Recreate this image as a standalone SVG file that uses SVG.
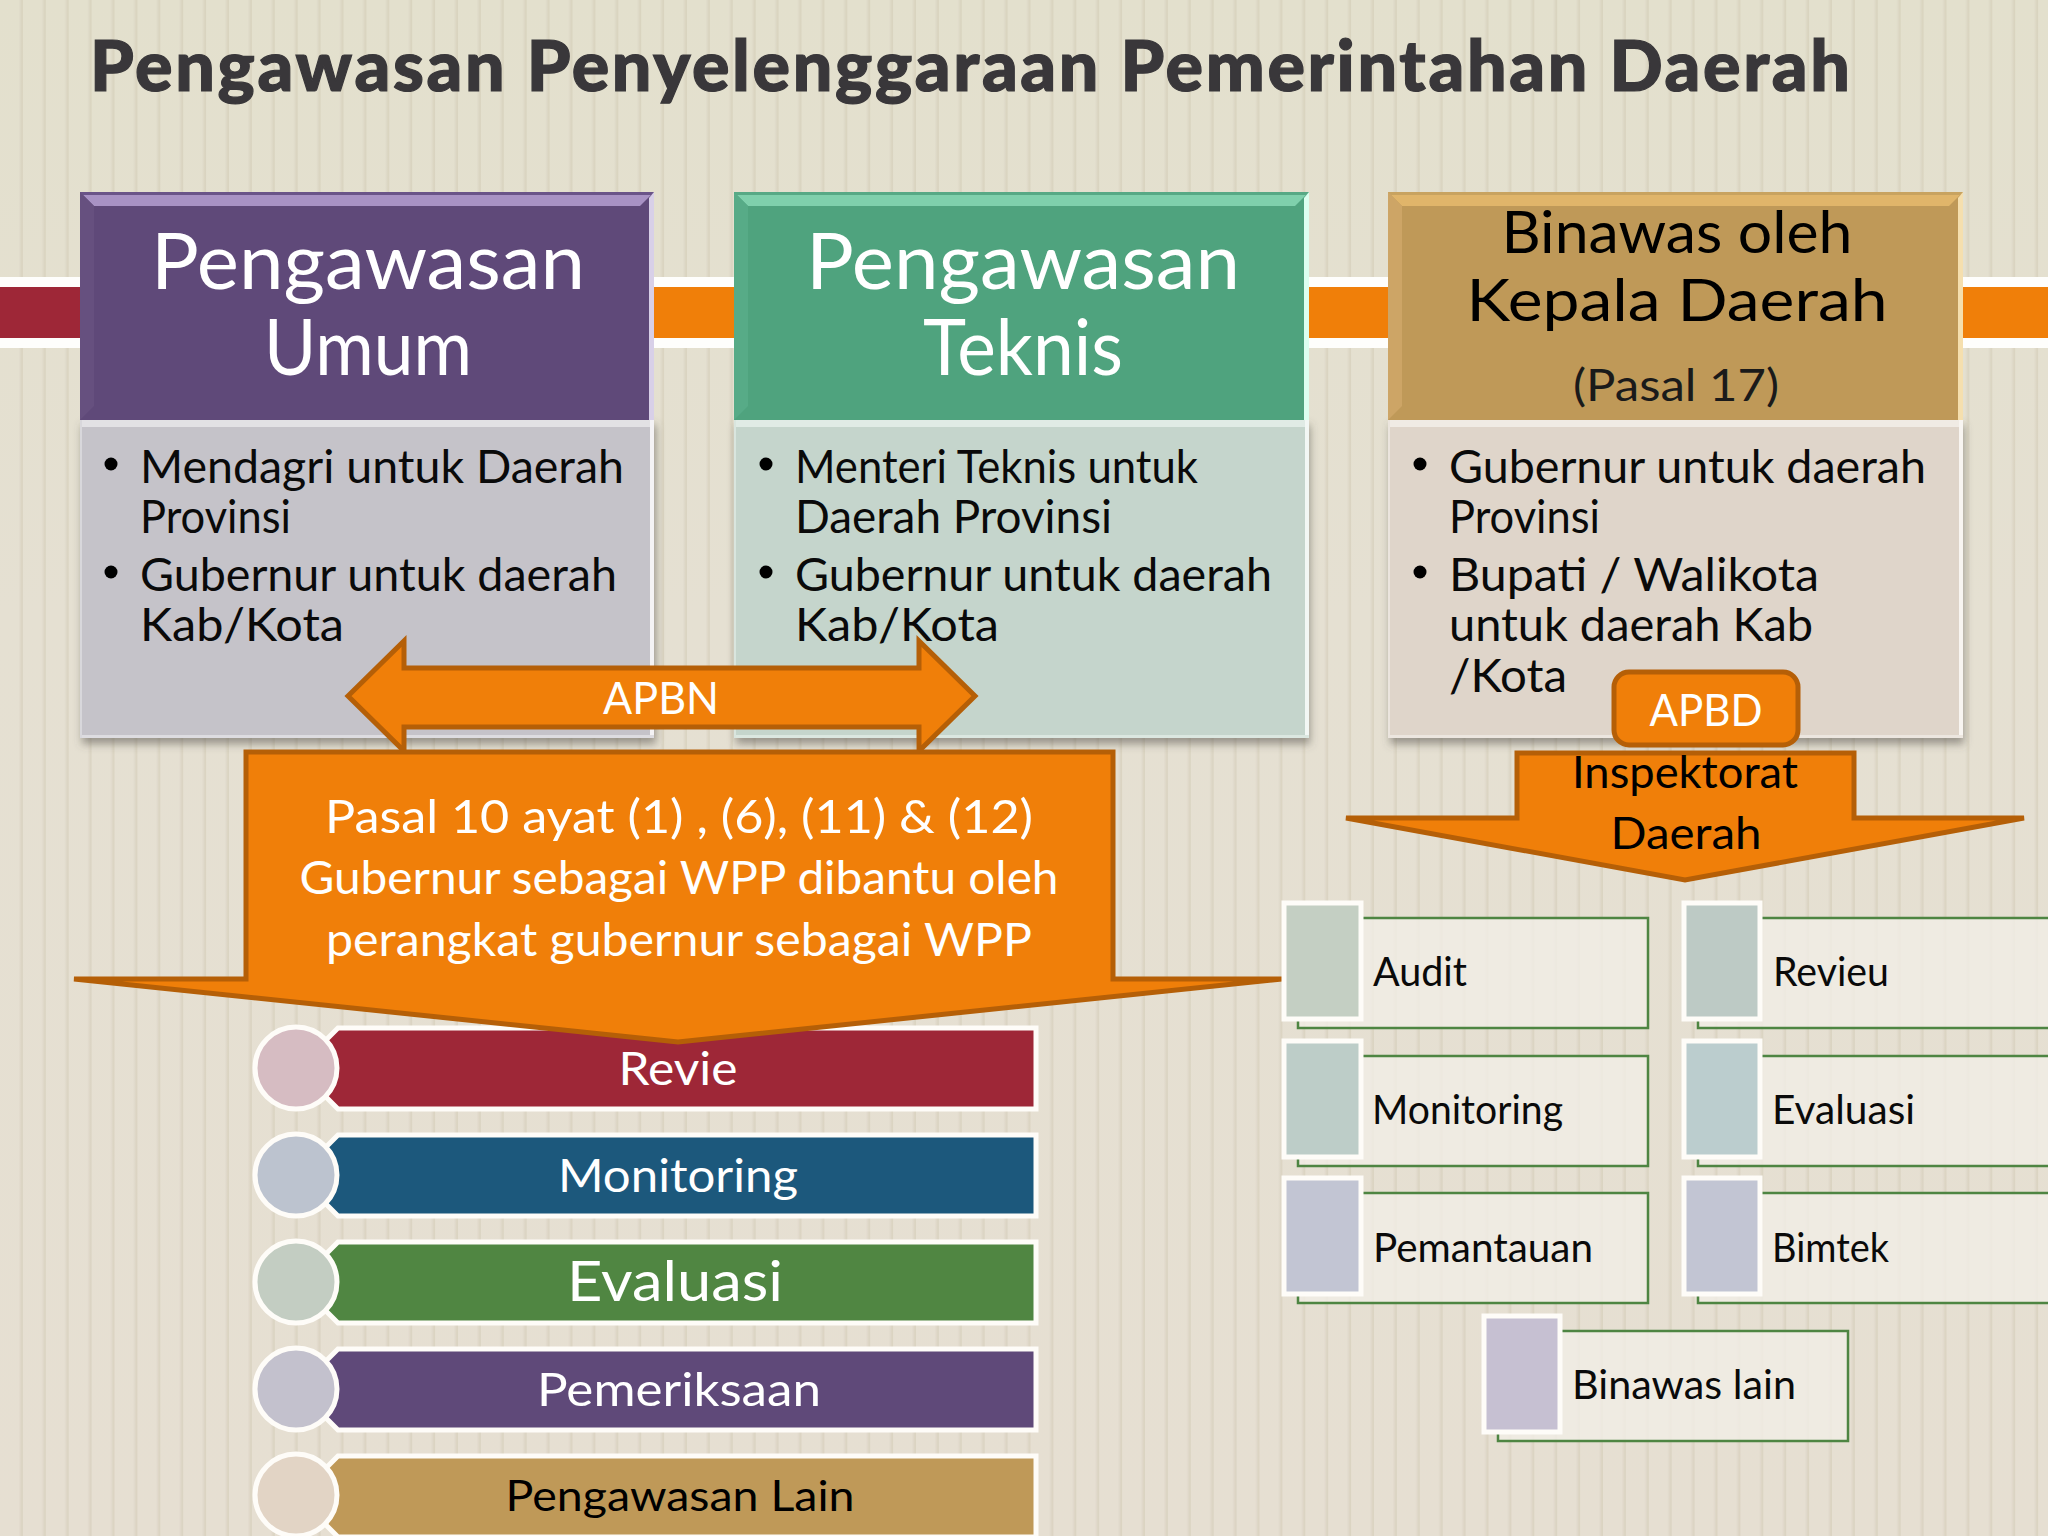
<svg xmlns="http://www.w3.org/2000/svg" width="2048" height="1536" viewBox="0 0 2048 1536">
<defs>
<linearGradient id="bgGrad" x1="0" y1="0" x2="0" y2="1"><stop offset="0" stop-color="#e3e0cd"/><stop offset="0.4" stop-color="#e5e0d2"/><stop offset="1" stop-color="#e6dfd2"/></linearGradient>
<pattern id="stripes" width="22.9" height="40" patternUnits="userSpaceOnUse"><rect x="19.5" width="1.5" height="40" fill="#c8bfa8" fill-opacity="0.2"/><rect x="21" width="4" height="40" fill="#c8bfa8" fill-opacity="0.36"/><rect x="25" width="1.5" height="40" fill="#c8bfa8" fill-opacity="0.2"/></pattern>
<filter id="shadow" x="-5%" y="-5%" width="110%" height="110%"><feGaussianBlur stdDeviation="4"/></filter>
</defs>
<style>
text{font-family:"Lato","Open Sans","Liberation Sans",sans-serif}
.c{text-anchor:middle}
.w{fill:#ffffff}
.k{fill:#000000}
.h{font-size:78px}
.b{font-size:46px;fill:#0a0a0a}
.a{fill:#f07f09;stroke:#b55f07;stroke-width:5;stroke-linejoin:miter}
.bar{stroke:#fefcf8;stroke-width:5}
.circ{stroke:#fefcf8;stroke-width:5}
.panel{fill:#f1ede6;fill-opacity:.8;stroke:#4e8542;stroke-width:2.5}
.thumb{stroke:#fefcf8;stroke-width:5}
.l{font-size:40px;fill:#0a0a0a}
.shadow{fill:#5a5650;fill-opacity:.55}
</style>
<rect width="2048" height="1536" fill="url(#bgGrad)"/>
<rect width="2048" height="1536" fill="url(#stripes)"/>
<text id="title" x="90" y="91" font-size="70" font-weight="900" fill="#39373a" stroke="#39373a" stroke-width="1.2" textLength="1760" lengthAdjust="spacing">Pengawasan Penyelenggaraan Pemerintahan Daerah</text>
<g id="connectors">
<rect x="0" y="277" width="2048" height="71" fill="#fefefc"/>
<rect x="0" y="287" width="80" height="51" fill="#9e2737"/>
<rect x="654" y="287" width="1394" height="51" fill="#f07f09"/>
</g>
<g id="box-umum">
<rect class="shadow" x="82" y="425" width="574" height="319" filter="url(#shadow)"/>
<rect x="80" y="420" width="574" height="318" fill="#c5c3c9"/>
<rect x="80" y="420" width="574" height="7" fill="#e2e1e4"/>
<rect x="650" y="420" width="4" height="318" fill="#f4f3f5"/>
<rect x="80" y="735" width="574" height="3" fill="#dddce0"/>
<rect x="80" y="420" width="2" height="318" fill="#d8d7db"/>
<rect x="80" y="192" width="574" height="228" fill="#5f4979"/>
<path d="M80 192H654L640 206H94Z" fill="#a892c4"/>
<rect x="80" y="192" width="574" height="3" fill="#6a5488"/>
<path d="M80 192L94 206V406L80 420Z" fill="#66507f"/>
<path d="M654 192L649 198V420H654Z" fill="#d8d0e8"/>
<text class="h c w"><tspan x="368" y="289" textLength="434" lengthAdjust="spacingAndGlyphs">Pengawasan</tspan><tspan x="368" y="375" textLength="208" lengthAdjust="spacingAndGlyphs">Umum</tspan></text>
<circle cx="111" cy="464" r="6.5"/><circle cx="111" cy="572" r="6.5"/>
<text class="b" x="140" y="483" textLength="484" lengthAdjust="spacingAndGlyphs">Mendagri untuk Daerah</text>
<text class="b" x="140" y="533" textLength="151" lengthAdjust="spacingAndGlyphs">Provinsi</text>
<text class="b" x="140" y="591" textLength="477" lengthAdjust="spacingAndGlyphs">Gubernur untuk daerah</text>
<text class="b" x="140" y="641" textLength="204" lengthAdjust="spacingAndGlyphs">Kab/Kota</text>
</g>
<g id="box-teknis">
<rect class="shadow" x="736" y="425" width="574" height="319" filter="url(#shadow)"/>
<rect x="734" y="420" width="575" height="318" fill="#c5d5cc"/>
<rect x="734" y="420" width="575" height="7" fill="#e0ebe5"/>
<rect x="1305" y="420" width="4" height="318" fill="#f2f7f4"/>
<rect x="734" y="735" width="575" height="3" fill="#dbe7e0"/>
<rect x="734" y="420" width="2" height="318" fill="#d9e5de"/>
<rect x="734" y="192" width="575" height="228" fill="#4fa37e"/>
<path d="M734 192H1309L1295 206H748Z" fill="#7fd0ac"/>
<rect x="734" y="192" width="575" height="3" fill="#57a985"/>
<path d="M734 192L748 206V406L734 420Z" fill="#57ab87"/>
<path d="M1309 192L1304 198V420H1309Z" fill="#dcfff0"/>
<text class="h c w"><tspan x="1023" y="289" textLength="434" lengthAdjust="spacingAndGlyphs">Pengawasan</tspan><tspan x="1023" y="375" textLength="200" lengthAdjust="spacingAndGlyphs">Teknis</tspan></text>
<circle cx="766" cy="464" r="6.5"/><circle cx="766" cy="572" r="6.5"/>
<text class="b" x="795" y="483" textLength="403" lengthAdjust="spacingAndGlyphs">Menteri Teknis untuk</text>
<text class="b" x="795" y="533" textLength="317" lengthAdjust="spacingAndGlyphs">Daerah Provinsi</text>
<text class="b" x="795" y="591" textLength="477" lengthAdjust="spacingAndGlyphs">Gubernur untuk daerah</text>
<text class="b" x="795" y="641" textLength="204" lengthAdjust="spacingAndGlyphs">Kab/Kota</text>
</g>
<g id="box-binawas">
<rect class="shadow" x="1390" y="425" width="574" height="319" filter="url(#shadow)"/>
<rect x="1388" y="420" width="575" height="318" fill="#dfd5ca"/>
<rect x="1388" y="420" width="575" height="7" fill="#f0ebe4"/>
<rect x="1959" y="420" width="4" height="318" fill="#f8f5f1"/>
<rect x="1388" y="735" width="575" height="3" fill="#ece6df"/>
<rect x="1388" y="420" width="2" height="318" fill="#ebe5de"/>
<rect x="1388" y="192" width="575" height="228" fill="#bf9958"/>
<path d="M1388 192H1963L1949 206H1402Z" fill="#e0b56a"/>
<rect x="1388" y="192" width="575" height="3" fill="#c8a360"/>
<path d="M1388 192L1402 206V406L1388 420Z" fill="#cda566"/>
<path d="M1963 192L1958 198V420H1963Z" fill="#f5dfae"/>
<text class="c k" font-size="58"><tspan x="1677" y="253" textLength="351" lengthAdjust="spacingAndGlyphs">Binawas oleh</tspan><tspan x="1677" y="321" textLength="421" lengthAdjust="spacingAndGlyphs">Kepala Daerah</tspan></text>
<text class="c" x="1676" y="401" font-size="44" fill="#1a1a1a" textLength="206" lengthAdjust="spacingAndGlyphs">(Pasal 17)</text>
<circle cx="1420" cy="464" r="6.5"/><circle cx="1420" cy="572" r="6.5"/>
<text class="b" x="1449" y="483" textLength="477" lengthAdjust="spacingAndGlyphs">Gubernur untuk daerah</text>
<text class="b" x="1449" y="533" textLength="151" lengthAdjust="spacingAndGlyphs">Provinsi</text>
<text class="b" x="1449" y="591" textLength="370" lengthAdjust="spacingAndGlyphs">Bupati / Walikota</text>
<text class="b" x="1449" y="641" textLength="364" lengthAdjust="spacingAndGlyphs">untuk daerah Kab</text>
<text class="b" x="1449" y="692" textLength="118" lengthAdjust="spacingAndGlyphs">/Kota</text>
</g>
<g id="arrow-apbn">
<path class="a" d="M348 696L404 641V668H919V641L975 696L919 751V727H404V751Z"/>
<text class="c w" x="661" y="714" font-size="44" textLength="116" lengthAdjust="spacingAndGlyphs">APBN</text>
</g>
<g id="apbd">
<rect class="a" x="1614" y="672" width="184" height="73" rx="15"/>
<text class="c w" x="1706" y="726" font-size="44" textLength="113" lengthAdjust="spacingAndGlyphs">APBD</text>
</g>
<g id="bar-revie">
<path class="bar" fill="#9e2737" d="M326 1040L338 1028H1036V1109H338L326 1097Z"/>
<circle class="circ" cx="296" cy="1068" r="41" fill="#d6bcc2"/>
<text class="c w" x="678" y="1085" font-size="46" textLength="119" lengthAdjust="spacingAndGlyphs">Revie</text>
</g>
<g id="bar-monitoring">
<path class="bar" fill="#1c587c" d="M326 1147L338 1135H1036V1216H338L326 1204Z"/>
<circle class="circ" cx="296" cy="1175" r="41" fill="#bcc3cf"/>
<text class="c w" x="678" y="1192" font-size="46" textLength="240" lengthAdjust="spacingAndGlyphs">Monitoring</text>
</g>
<g id="bar-evaluasi">
<path class="bar" fill="#508642" d="M326 1254L338 1242H1036V1323H338L326 1311Z"/>
<circle class="circ" cx="296" cy="1282" r="41" fill="#c3cdc2"/>
<text class="c w" x="675" y="1301" font-size="56" textLength="216" lengthAdjust="spacingAndGlyphs">Evaluasi</text>
</g>
<g id="bar-pemeriksaan">
<path class="bar" fill="#5f4979" d="M326 1361L338 1349H1036V1430H338L326 1418Z"/>
<circle class="circ" cx="296" cy="1389" r="41" fill="#c3c1cd"/>
<text class="c w" x="679" y="1406" font-size="46" textLength="284" lengthAdjust="spacingAndGlyphs">Pemeriksaan</text>
</g>
<g id="bar-lain">
<path class="bar" fill="#bf9958" d="M326 1468L338 1456H1036V1537H338L326 1525Z"/>
<circle class="circ" cx="296" cy="1495" r="41" fill="#e2d4c5"/>
<text class="c k" x="680" y="1511" font-size="42" textLength="349" lengthAdjust="spacingAndGlyphs">Pengawasan Lain</text>
</g>
<g id="arrow-pasal">
<path class="a" d="M246 752H1113V979H1282L678 1042L74 979H246Z"/>
<text class="c w" font-size="46"><tspan x="679" y="833" textLength="708" lengthAdjust="spacingAndGlyphs">Pasal 10 ayat (1) , (6), (11) &amp; (12)</tspan><tspan x="679" y="894" textLength="759" lengthAdjust="spacingAndGlyphs">Gubernur sebagai WPP dibantu oleh</tspan><tspan x="679" y="956" textLength="706" lengthAdjust="spacingAndGlyphs">perangkat gubernur sebagai WPP</tspan></text>
</g>
<g id="arrow-inspektorat">
<path class="a" d="M1517 753H1854V818H2024L1685 880L1346 818H1517Z"/>
<text class="c k" font-size="44"><tspan x="1685" y="788" textLength="226" lengthAdjust="spacingAndGlyphs">Inspektorat</tspan><tspan x="1686" y="849" textLength="151" lengthAdjust="spacingAndGlyphs">Daerah</tspan></text>
</g>
<g id="item-audit">
<rect class="panel" x="1298" y="918" width="350" height="110"/>
<rect class="thumb" x="1284" y="903" width="77" height="116" fill="#c4cfc3"/>
<text class="l" x="1373" y="986" textLength="94" lengthAdjust="spacingAndGlyphs">Audit</text>
</g>
<g id="item-revieu">
<rect class="panel" x="1698" y="918" width="352" height="110"/>
<rect class="thumb" x="1684" y="903" width="76" height="116" fill="#bdcac5"/>
<text class="l" x="1773" y="986" textLength="116" lengthAdjust="spacingAndGlyphs">Revieu</text>
</g>
<g id="item-monitoring">
<rect class="panel" x="1298" y="1056" width="350" height="110"/>
<rect class="thumb" x="1284" y="1041" width="77" height="116" fill="#bdcdc8"/>
<text class="l" x="1372" y="1124" textLength="191" lengthAdjust="spacingAndGlyphs">Monitoring</text>
</g>
<g id="item-evaluasi">
<rect class="panel" x="1698" y="1056" width="352" height="110"/>
<rect class="thumb" x="1684" y="1041" width="76" height="116" fill="#bbcdce"/>
<text class="l" x="1772" y="1124" textLength="143" lengthAdjust="spacingAndGlyphs">Evaluasi</text>
</g>
<g id="item-pemantauan">
<rect class="panel" x="1298" y="1193" width="350" height="110"/>
<rect class="thumb" x="1284" y="1178" width="77" height="116" fill="#c2c5d3"/>
<text class="l" x="1373" y="1262" textLength="220" lengthAdjust="spacingAndGlyphs">Pemantauan</text>
</g>
<g id="item-bimtek">
<rect class="panel" x="1698" y="1193" width="352" height="110"/>
<rect class="thumb" x="1684" y="1178" width="76" height="116" fill="#c2c5d3"/>
<text class="l" x="1772" y="1262" textLength="117" lengthAdjust="spacingAndGlyphs">Bimtek</text>
</g>
<g id="item-binawas-lain">
<rect class="panel" x="1498" y="1331" width="350" height="110"/>
<rect class="thumb" x="1484" y="1316" width="76" height="116" fill="#c6c0d2"/>
<text class="l" x="1572" y="1399" textLength="224" lengthAdjust="spacingAndGlyphs">Binawas lain</text>
</g>
</svg>
